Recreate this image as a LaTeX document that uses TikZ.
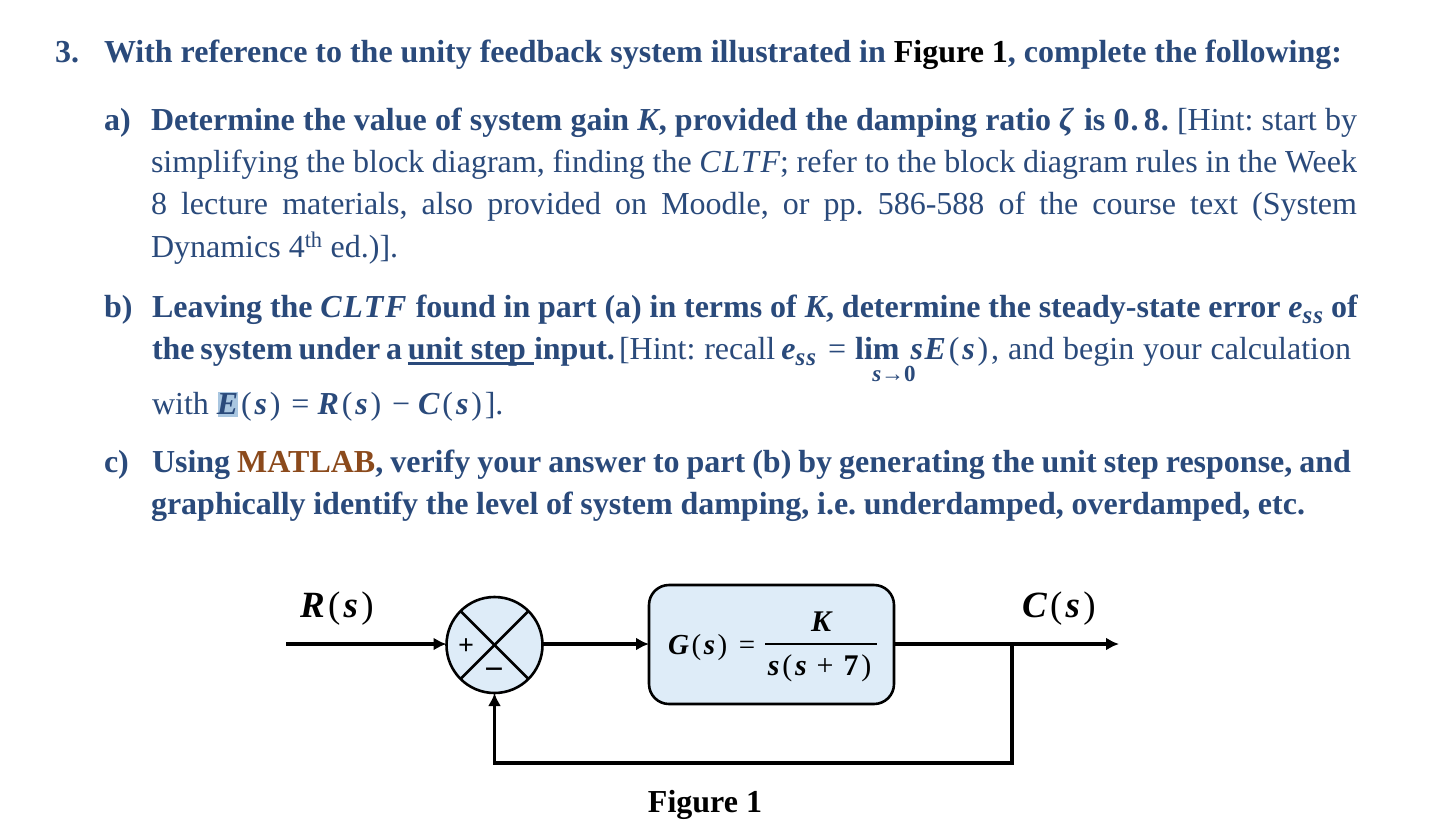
\documentclass[tikz,border=0pt]{standalone}
\usepackage{fontspec}
\setmainfont{Liberation Serif}
\usetikzlibrary{arrows.meta}
\definecolor{navy}{HTML}{2A4A7B}
\definecolor{brownm}{HTML}{8B4A1C}
\definecolor{boxfill}{HTML}{DEECF8}
\definecolor{hl}{HTML}{A9C6E0}
\newcommand{\bodysize}{\fontsize{32}{38}\selectfont}
\newcommand{\mbi}[1]{{\bfseries\itshape\addfontfeature{LetterSpace=5}#1}}
\newcommand{\mpar}[1]{{\bfseries\addfontfeature{LetterSpace=3}#1}}
\newcommand{\lp}{{\mdseries\kern.09em(\kern.09em}}
\newcommand{\rp}{{\mdseries\kern.09em)\kern.09em}}
\newcommand{\ssub}{\raisebox{-6pt}{\fontsize{25}{25}\selectfont\bfseries\itshape\addfontfeature{LetterSpace=5}ss}}
\newcommand{\uln}[1]{\setbox0=\hbox{#1}\rlap{\rule[-6pt]{\wd0}{2.6pt}}\box0 }
\newcommand{\fitw}[2]{\hbox to #1pt{\frenchspacing\spaceskip=0.25em plus 1em minus 0.1em #2}}
\tikzset{
  x=1pt,y=-1pt,
  txt/.style={anchor=base west,inner sep=0pt,outer sep=0pt,text=navy,font=\bodysize},
  dia/.style={inner sep=0pt,outer sep=0pt,text=black,font=\fontsize{37}{42}\selectfont\bfseries},
  conn/.style={line width=3.2pt,draw=black,-{Latex[length=13pt,width=13pt]}},
  sumj/.style={circle,draw=black,line width=2.6pt,fill=boxfill,minimum size=96pt,inner sep=0pt,outer sep=0pt},
  gbox/.style={draw=black,line width=2.6pt,fill=boxfill,rounded corners=20pt,minimum width=245pt,minimum height=119pt,inner sep=0pt,outer sep=0pt}
}
\begin{document}
\begin{tikzpicture}
\useasboundingbox[fill=white] (0,0) rectangle (1440,828);
% highlight and question text
\fill[hl] (218,392) rectangle (238,417);
\node[txt,font=\bodysize\bfseries] (q3) at (55,62) {3.};
\node[txt,font=\bodysize\bfseries] (q3t) at (104,62) {\fitw{1238}{With reference to the unity feedback system illustrated in \textcolor{black}{Figure 1}, complete the following:}};
\node[txt,font=\bodysize\bfseries] (la) at (104,130) {a)};
\node[txt] (a1) at (151,130) {\fitw{1206}{\textbf{Determine the value of system gain }\mbi{K}\textbf{, provided the damping ratio }\mbi{ζ}\textbf{ is }\mpar{0.\,8.} [Hint: start by}};
\node[txt] (a2) at (151,172) {\fitw{1206}{simplifying the block diagram, finding the {\itshape\addfontfeature{LetterSpace=5}CLTF}; refer to the block diagram rules in the Week}};
\node[txt] (a3) at (151,214) {\fitw{1206}{8 lecture materials, also provided on Moodle, or pp. 586-588 of the course text (System}};
\node[txt] (a4) at (151,257) {Dynamics 4\textsuperscript{th} ed.)].};
\node[txt,font=\bodysize\bfseries] (lb) at (104,317) {b)};
\node[txt] (b1) at (152,317) {\fitw{1206}{\textbf{Leaving the }\mbi{CLTF}\textbf{ found in part (a) in terms of }\mbi{K}\textbf{, determine the steady-state error }\mbi{e}\ssub\textbf{ of}}};
\node[txt] (b2) at (152,359) {\fitw{463}{\textbf{the system under a }\textbf{\uln{unit step~}}\textbf{input.}}};
\node[txt] (b2m) at (619,359) {\fitw{732}{[Hint: recall\kern6pt\mbi{e}\ssub\ \kern3pt=\kern9pt\textbf{lim}\kern11pt\mbi{sE}\lp\mbi{s}\rp, and begin your calculation}};
\node[txt,font=\fontsize{23}{25}\selectfont\bfseries,anchor=base] (b2lim) at (894,381) {\textit{s}→0};
\node[txt] (b3) at (152,414) {with \mbi{E}\lp\mbi{s}\rp\ = \mbi{R}\lp\mbi{s}\rp\ − \mbi{C}\lp\mbi{s}\rp].};
\node[txt,font=\bodysize\bfseries] (lc) at (104,472) {c)};
\node[txt] (c1) at (152,472) {\fitw{1199}{\textbf{Using }\textcolor{brownm}{\textbf{MATLAB}}\textbf{, verify your answer to part (b) by generating the unit step response, and}}};
\node[txt,font=\bodysize\bfseries] (c2) at (151,514) {\fitw{1154}{graphically identify the level of system damping, i.e. underdamped, overdamped, etc.}};
% block diagram
\coordinate (rin) at (286,644);
\coordinate (cout) at (1119,644);
\coordinate (tap) at (1012,644);
\coordinate (low) at (1012,763);
\node[sumj] (sum) at (494.5,645) {};
\node[gbox] (g) at (771.5,644.5) {};
\draw[line width=2.6pt] (sum.north west) -- (sum.south east);
\draw[line width=2.6pt] (sum.north east) -- (sum.south west);
\draw[conn] (rin) -- (sum.west |- rin);
\draw[conn] (sum.east |- rin) -- (g.west |- rin);
\draw[conn] (g.east |- rin) -- (cout);
\draw[conn] (tap) -- (low) -- (low -| sum.south) -- (sum.south);
\node[dia,font=\fontsize{28}{28}\selectfont\bfseries] (plus) at (466,647) {+};
\node[dia,font=\fontsize{34}{34}\selectfont\bfseries] (minus) at (494,674) {−};
\node[dia,anchor=base west] (rs) at (300,617) {\mbi{R}\lp\mbi{s}\rp};
\node[dia,anchor=base west] (cs) at (1022,617) {\mbi{C}\lp\mbi{s}\rp};
\node[dia,anchor=base west,font=\fontsize{29}{32}\selectfont\bfseries] (gs) at (668,654) {\mbi{G}\lp\mbi{s}\rp};
\node[dia,anchor=base,font=\fontsize{29}{32}\selectfont] (eqs) at (747,654) {=};
\node[dia,font=\fontsize{30}{32}\selectfont\bfseries,anchor=base] (kk) at (821,631) {\mbi{K}};
\node[dia,font=\fontsize{30}{32}\selectfont\bfseries,anchor=base] (den) at (821,675) {\mbi{s}\lp\mbi{s}\,\,{\mdseries +}\,\,7\rp};
\draw[line width=1.8pt] (765,644) -- (877,644);
\node[dia,anchor=base,font=\fontsize{32}{36}\selectfont\bfseries] (fig) at (705,812) {Figure 1};
\end{tikzpicture}
\end{document}
